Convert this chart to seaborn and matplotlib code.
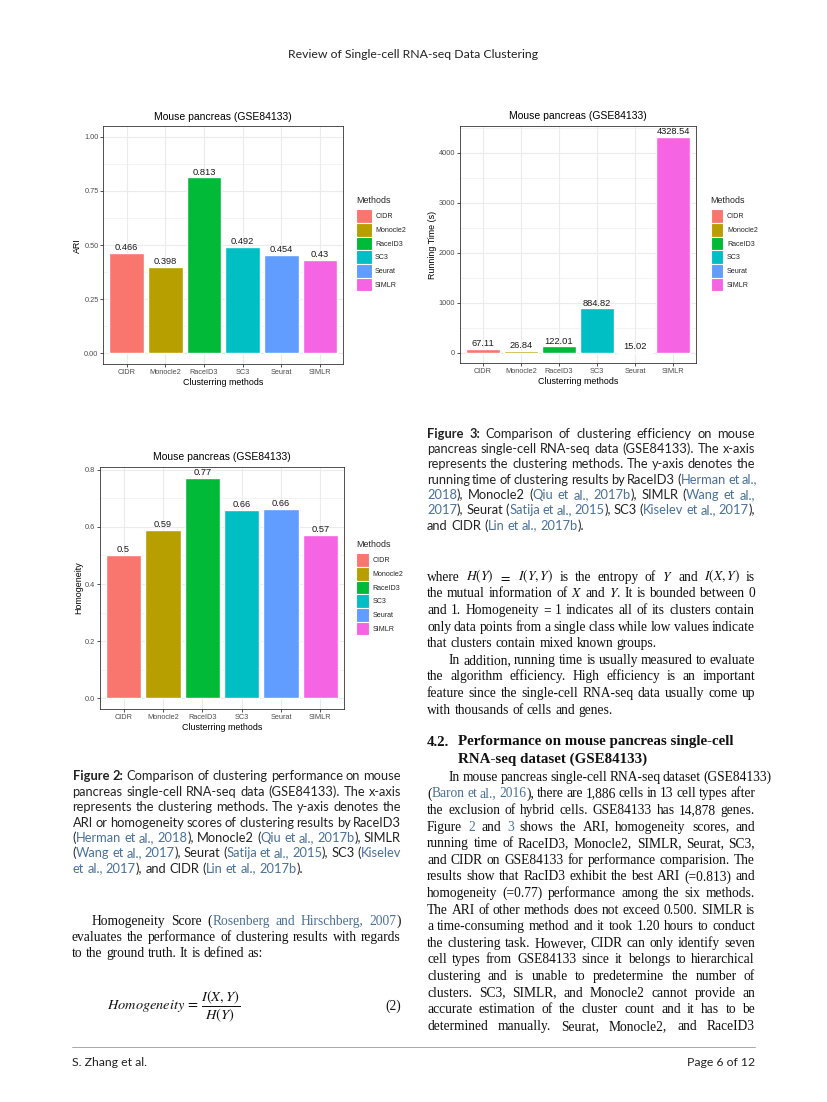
import numpy as np
import pandas as pd
import seaborn as sns
import matplotlib
matplotlib.use("Agg")
import matplotlib.pyplot as plt
from matplotlib.patches import Patch

# chart data
methods = ["CIDR", "Monocle2", "RaceID3", "SC3", "Seurat", "SIMLR"]
colors = ["#F8766D", "#B79F00", "#00BA38", "#00BFC4", "#619CFF", "#F564E3"]
ari = [0.466, 0.398, 0.813, 0.492, 0.454, 0.43]
run_time = [67.11, 26.84, 122.01, 884.82, 15.02, 4328.54]
homogeneity = [0.502, 0.590, 0.772, 0.660, 0.663, 0.573]

ari_ticks = [0, 0.25, 0.5, 0.75, 1.0]
time_ticks = [0, 1000, 2000, 3000, 4000]
homo_ticks = [0, 0.2, 0.4, 0.6, 0.8]

chart_title = "Mouse pancreas (GSE84133)"
x_title = "Clusterring methods"

# page text
header = "Review of Single-cell RNA-seq Data Clustering"
footer_left = "S. Zhang et al."
footer_right = "Page 6 of 12"

caption2 = [
    "*Figure 2:* Comparison of clustering performance on mouse",
    "pancreas single-cell RNA-seq data (GSE84133). The x-axis",
    "represents the clustering methods. The y-axis denotes the",
    "ARI or homogeneity scores of clustering results by RaceID3",
    "([Herman et al., 2018]), Monocle2 ([Qiu et al., 2017b]), SIMLR",
    "([Wang et al., 2017]), Seurat ([Satija et al., 2015]), SC3 ([Kiselev",
    "[et al., 2017]), and CIDR ([Lin et al., 2017b]).",
]
caption3 = [
    "*Figure 3:* Comparison of clustering efficiency on mouse",
    "pancreas single-cell RNA-seq data (GSE84133). The x-axis",
    "represents the clustering methods. The y-axis denotes the",
    "running time of clustering results by RaceID3 ([Herman et al.,",
    "[2018]), Monocle2 ([Qiu et al., 2017b]), SIMLR ([Wang et al.,",
    "[2017]), Seurat ([Satija et al., 2015]), SC3 ([Kiselev et al., 2017]),",
    "and CIDR ([Lin et al., 2017b]).",
]
left_body = [
    "Homogeneity Score ([Rosenberg and Hirschberg, 2007])",
    "evaluates the performance of clustering results with regards",
    "to the ground truth. It is defined as:",
]
right_body1 = [
    "where $H(Y)$ $=$ $I(Y,Y)$ is the entropy of $Y$ and $I(X,Y)$ is",
    "the mutual information of $X$ and $Y$. It is bounded between 0",
    "and 1. Homogeneity = 1 indicates all of its clusters contain",
    "only data points from a single class while low values indicate",
    "that clusters contain mixed known groups.",
]
right_body2 = [
    "In addition, running time is usually measured to evaluate",
    "the algorithm efficiency. High efficiency is an important",
    "feature since the single-cell RNA-seq data usually come up",
    "with thousands of cells and genes.",
]
section = ["Performance on mouse pancreas single-cell", "RNA-seq dataset (GSE84133)"]
section_body = [
    "In mouse pancreas single-cell RNA-seq dataset (GSE84133)",
    "([Baron et al., 2016]), there are 1,886 cells in 13 cell types after",
    "the exclusion of hybrid cells. GSE84133 has 14,878 genes.",
    "Figure [2] and [3] shows the ARI, homogeneity scores, and",
    "running time of RaceID3, Monocle2, SIMLR, Seurat, SC3,",
    "and CIDR on GSE84133 for performance comparision. The",
    "results show that RacID3 exhibit the best ARI (=0.813) and",
    "homogeneity (=0.77) performance among the six methods.",
    "The ARI of other methods does not exceed 0.500. SIMLR is",
    "a time-consuming method and it took 1.20 hours to conduct",
    "the clustering task. However, CIDR can only identify seven",
    "cell types from GSE84133 since it belongs to hierarchical",
    "clustering and is unable to predetermine the number of",
    "clusters. SC3, SIMLR, and Monocle2 cannot provide an",
    "accurate estimation of the cluster count and it has to be",
    "determined manually. Seurat, Monocle2, and RaceID3",
]

sns.set_theme(style="white")
plt.rcParams["font.family"] = ["Liberation Sans", "DejaVu Sans"]
plt.rcParams["mathtext.fontset"] = "stix"

W, H = 827, 1102
fig = plt.figure(figsize=(W / 100, H / 100), dpi=100)
fig.patch.set_facecolor("white")
renderer = fig.canvas.get_renderer()

GRID = "#EBEBEB"
DARK = "#333333"


def panel(box, values, ticks, tick_fmt, ylabel, ylim, legend_xy, label_fmt, key_w):
    l, t, r, b = box
    ax = fig.add_axes([l / W, 1 - b / H, (r - l) / W, (b - t) / H])
    df = pd.DataFrame({"method": methods, "value": values})
    sns.barplot(data=df, x="method", y="value", hue="method", order=methods,
                hue_order=methods, palette=colors, saturation=1, width=0.9,
                errorbar=None, legend=False, ax=ax)
    ax.set_axisbelow(True)
    ax.set_xlim(-0.6, len(methods) - 0.4)
    ax.set_ylim(*ylim)
    ax.set_yticks(ticks)
    ax.set_yticklabels([tick_fmt.format(v) for v in ticks])
    step = ticks[1] - ticks[0]
    minor = [v + step / 2 for v in ticks if v + step / 2 < ylim[1]]
    ax.set_yticks(minor, minor=True)
    ax.grid(True, which="major", color=GRID, lw=0.8)
    ax.grid(True, which="minor", axis="y", color=GRID, lw=0.4)
    ax.tick_params(which="major", bottom=True, left=True, length=2.2, width=0.6,
                   color=DARK, labelsize=5.3, labelcolor="#4D4D4D", pad=1.2)
    ax.tick_params(which="minor", length=0)
    for s in ax.spines.values():
        s.set_visible(True)
        s.set_color(DARK)
        s.set_linewidth(0.6)
    ax.set_title(chart_title, fontsize=7.5, color="black", pad=4.5)
    ax.set_xlabel(x_title, fontsize=6.4, color="black", labelpad=1.6)
    ax.set_ylabel(ylabel, fontsize=6.4, color="black", labelpad=1.5)
    for c in ax.containers:
        ax.bar_label(c, labels=[label_fmt(bar.get_height()) for bar in c],
                     padding=0.6, fontsize=6.7, color="#1a1a1a")
    handles = [Patch(facecolor=c, edgecolor="white", linewidth=0.8) for c in colors]
    leg = ax.legend(handles, methods, title="Methods", loc="upper left",
                    bbox_to_anchor=(legend_xy[0] / W, 1 - legend_xy[1] / H),
                    bbox_transform=fig.transFigure, frameon=False, fontsize=5.1,
                    title_fontsize=6.4, handlelength=key_w, handleheight=2.6,
                    labelspacing=0, handletextpad=0.5, borderpad=0,
                    borderaxespad=0, alignment="left")
    leg._legend_box.sep = 3
    return ax


panel((103.3, 126, 343.3, 364.3), ari, ari_ticks, "{:.2f}", "ARI",
      (-0.05, 1.05), (356, 196), lambda v: f"{v:g}", 2.2)
panel((460, 125.7, 696, 363.3), run_time, time_ticks, "{:.0f}", "Running Time (s)",
      (-0.05 * max(run_time), 1.05 * max(run_time)), (710.7, 196),
      lambda v: f"{v:g}", 1.8)
panel((100, 466.7, 344, 709.3), homogeneity, homo_ticks, "{:.1f}", "Homogeneity",
      (-0.05 * max(homogeneity), 1.05 * max(homogeneity)), (356, 540),
      lambda v: f"{round(v, 2):g}", 1.8)

# ---- page text -------------------------------------------------------------
SANS = ["Lato", "DejaVu Sans"]
SERIF = ["Liberation Serif", "DejaVu Serif"]
LINK = "#4a7099"


def width_of(s, **kw):
    t = fig.text(0, 0, s, **kw)
    w = t.get_window_extent(renderer).width
    t.remove()
    return w


def fit(s, family, target, weight="normal"):
    return 10 * target / width_of(s, fontsize=10, family=family, fontweight=weight)


def parse(line):
    words, word, buf = [], [], ""
    link = bold = False
    for ch in line + " ":
        if ch in "[]* ":
            if buf:
                word.append((buf, link, bold))
                buf = ""
            if ch == "[":
                link = True
            elif ch == "]":
                link = False
            elif ch == "*":
                bold = not bold
            elif word:
                words.append(word)
                word = []
        else:
            buf += ch
    return words


def put_line(line, x0, x1, y, style, justify=True, indent=0):
    placed = []
    for word in parse(line):
        parts = []
        for s, link, bold in word:
            kw = dict(style)
            if link:
                kw["color"] = LINK
            if bold:
                kw["fontweight"] = "bold"
            t = fig.text(0, 1 - y / H, s, ha="left", va="baseline", **kw)
            parts.append((t, t.get_window_extent(renderer).width))
        placed.append(parts)
    sp = width_of("n n", **style) - width_of("nn", **style)
    total = sum(w for p in placed for _, w in p)
    gap = sp
    if justify and len(placed) > 1:
        gap = max((x1 - x0 - indent - total) / (len(placed) - 1), 0.7 * sp)
    x = x0 + indent
    for parts in placed:
        for t, w in parts:
            t.set_x(x / W)
            x += w
        x += gap


def put_par(lines, x0, x1, y0, dy, style, indent=0, last_full=False, shift=3.8):
    for i, line in enumerate(lines):
        full = last_full or i < len(lines) - 1
        put_line(line, x0, x1, y0 + i * dy + shift, style, justify=full,
                 indent=indent if i == 0 else 0)


cap_size = (fit("et al., 2017), and CIDR (Lin et al., 2017b).", SANS, 229)
            + fit("and CIDR (Lin et al., 2017b).", SANS, 158)) / 2
body_size = fit("that clusters contain mixed known groups.", SERIF, 229)
head_size = fit(header, SANS, 249)
sec_size = fit(section[0], SERIF, 278, weight="bold")

cap_style = dict(fontsize=cap_size, family=SANS, color="#222222")
body_style = dict(fontsize=body_size, family=SERIF, color="#111111")

# running header and footer
fig.text(413 / W, 1 - 55 / H, header, ha="center", va="center",
         fontsize=head_size, family=SANS, color="#222222")
fig.add_artist(plt.Line2D([72 / W, 755 / W], [1 - 1047 / H, 1 - 1047 / H],
                          color="#9a9a9a", lw=0.6))
fig.text(72 / W, 1 - 1062 / H, footer_left, ha="left", va="center",
         fontsize=head_size, family=SANS, color="#222222")
fig.text(755 / W, 1 - 1062 / H, footer_right, ha="right", va="center",
         fontsize=head_size, family=SANS, color="#222222")

# left column
put_par(caption2, 72.5, 401, 777, 15.35, cap_style, shift=3.5)
put_par(left_body, 72, 401, 921, 16.2, body_style, indent=20)
fig.text(106.7 / W, 1 - 1006 / H,
         r"$Homogeneity\,=\,\dfrac{I(X,Y)}{H(Y)}$",
         ha="left", va="center", fontsize=body_size * 1.06, color="#111111")
fig.text(401 / W, 1 - 1006 / H, "(2)", ha="right", va="center",
         fontsize=body_size, family=SERIF, color="#111111")

# right column
put_par(caption3, 427, 755, 434, 15.35, cap_style, shift=3.5)
put_par(right_body1, 427, 755, 577, 16.6, body_style)
put_par(right_body2, 427, 755, 577 + 5 * 16.6, 16.6, body_style, indent=22)
sec_style = dict(fontsize=sec_size, family=SERIF, fontweight="bold", color="#111111")
fig.text(427 / W, 1 - 745.5 / H, "4.2.", ha="left", va="baseline", **sec_style)
fig.text(457.7 / W, 1 - 745.5 / H, section[0], ha="left", va="baseline", **sec_style)
fig.text(457.7 / W, 1 - 762.5 / H, section[1], ha="left", va="baseline", **sec_style)
put_par(section_body, 427, 755, 777, 16.6, body_style, indent=22, last_full=True)

fig.savefig("out.png", dpi=100)
